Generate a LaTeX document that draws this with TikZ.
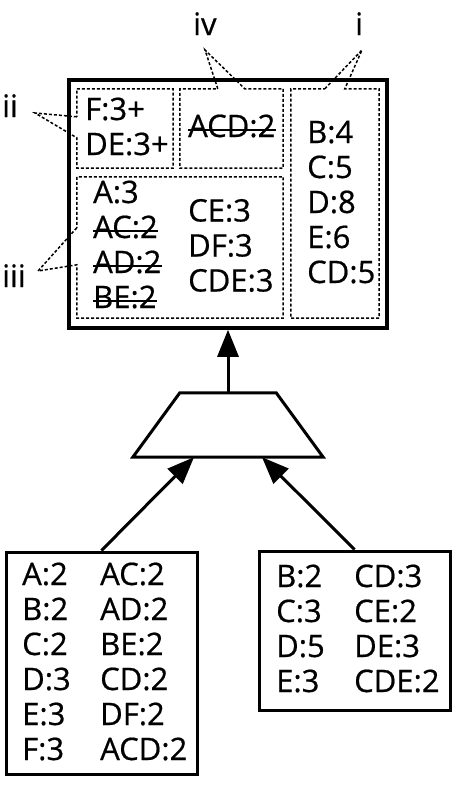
\documentclass[tikz,border=0pt]{standalone}
\usepackage{fontspec}
\setmainfont{Open Sans}[FakeBold=0.6]
\usetikzlibrary{shapes,arrows.meta,positioning,calc,shadows}

\begin{document}
\begin{tikzpicture}[
  x=1pt, y=-1pt,
  every node/.style={font=\fontsize{31}{35}\selectfont, inner sep=0pt},
  entry/.style={anchor=base west},
  setbox/.style={rectangle, draw, line width=3pt, fill=white,
                 drop shadow={shadow xshift=2pt, shadow yshift=-2pt, opacity=0.15}},
  region/.style={draw, line width=1.5pt, dash pattern=on 3pt off 2pt},
  strike/.style={line width=2.4pt},
  arrow/.style={-{Triangle[length=27pt,width=21pt]}, line width=3pt}
]
\useasboundingbox (0,0) rectangle (465,787);

\node[setbox, line width=3.5pt, minimum width=318pt, minimum height=248pt] (merged) at (228,204) {};

\node[minimum width=96pt, minimum height=79pt] (regII) at (125,128.5) {};
\node[minimum width=103pt, minimum height=79pt] (regIV) at (231.5,128.5) {};
\node[minimum width=88pt, minimum height=229pt] (regI) at (335,203.5) {};
\node[minimum width=206pt, minimum height=141pt] (regIII) at (180,247.5) {};

\node[entry] (labIV) at (193,35) {iv};
\node[entry] (labI) at (355,35) {i};
\node[entry] (labII) at (2,117) {ii};
\node[entry] (labIII) at (2,287) {iii};
\coordinate (tipIV) at (205,50);
\coordinate (tipI) at (362,50);
\coordinate (tipII) at (35,113);
\coordinate (tipIII) at (38,271);

\draw[region] ($(regIV.north west)+(38,0)$) -- (tipIV) -- ($(regIV.north west)+(65,0)$)
  -- (regIV.north east) -- (regIV.south east) -- (regIV.south west) -- (regIV.north west) -- cycle;
\draw[region] ($(regI.north west)+(34,0)$) -- (tipI) -- ($(regI.north west)+(54,0)$)
  -- (regI.north east) -- (regI.south east) -- (regI.south west) -- (regI.north west) -- cycle;
\draw[region] ($(regII.north west)+(0,28)$) -- (tipII) -- ($(regII.north west)+(0,49)$)
  -- (regII.south west) -- (regII.south east) -- (regII.north east) -- (regII.north west) -- cycle;
\draw[region] ($(regIII.north west)+(0,51)$) -- (tipIII) -- ($(regIII.north west)+(0,88)$)
  -- (regIII.south west) -- (regIII.south east) -- (regIII.north east) -- (regIII.north west) -- cycle;

\foreach \t [count=\k from 0] in {F:3+,DE:3+}
  \node[entry] (ii\k) at (85,{120+35*\k}) {\t};
\node[entry] (iv0) at (188,137) {ACD:2};
\foreach \t [count=\k from 0] in {B:4,C:5,D:8,E:6,CD:5}
  \node[entry] (i\k) at (307,{143+35*\k}) {\t};
\foreach \t [count=\k from 0] in {A:3,AC:2,AD:2,BE:2}
  \node[entry] (iiia\k) at (93,{203+35*\k}) {\t};
\foreach \t [count=\k from 0] in {CE:3,DF:3,CDE:3}
  \node[entry] (iiib\k) at (188,{221.5+35*\k}) {\t};
\foreach \n in {iv0,iiia1,iiia2,iiia3}
  \draw[strike] ($(\n.base west)+(0,-7)$) -- ($(\n.base east)+(0,-7)$);

\node[minimum width=190pt, minimum height=64pt] (merger) at (228,425) {};
\draw[line width=3pt, line join=miter] (merger.south west) -- ($(merger.north west)+(47,0)$)
  -- ($(merger.north east)+(-47,0)$) -- (merger.south east) -- cycle;

\node[setbox, minimum width=191pt, minimum height=222pt] (leftset) at (101.5,663) {};
\node[setbox, minimum width=191pt, minimum height=159pt] (rightset) at (354.5,630.5) {};

\foreach \t [count=\k from 0] in {A:2,B:2,C:2,D:3,E:3,F:3}
  \node[entry] (la\k) at (22,{585+35*\k}) {\t};
\foreach \t [count=\k from 0] in {AC:2,AD:2,BE:2,CD:2,DF:2,ACD:2}
  \node[entry] (lb\k) at (100,{585+35*\k}) {\t};
\foreach \t [count=\k from 0] in {B:2,C:3,D:5,E:3}
  \node[entry] (ra\k) at (276,{587+35*\k}) {\t};
\foreach \t [count=\k from 0] in {CD:3,CE:2,DE:3,CDE:2}
  \node[entry] (rb\k) at (354,{587+35*\k}) {\t};

\draw[arrow] (merger.north) -- (merged.south);
\draw[arrow] (leftset.north) -- ($(merger.south)+(-34,0)$);
\draw[arrow] (rightset.north) -- ($(merger.south)+(34,0)$);

\end{tikzpicture}
\end{document}
